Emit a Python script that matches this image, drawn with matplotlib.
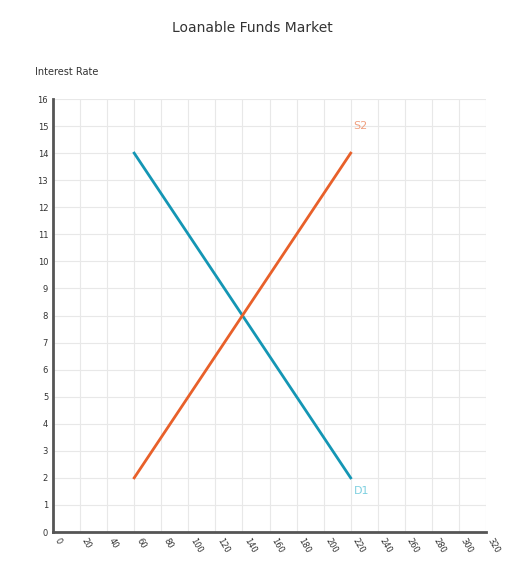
import matplotlib.pyplot as plt

demand_x = [60, 220]
demand_y = [14, 2]
supply_x = [60, 220]
supply_y = [2, 14]

fig = plt.figure(figsize=(5.05, 5.69), dpi=100)
ax = fig.add_axes([53/505, 1 - 532/569, 433/505, 433/569])

ax.plot(demand_x, demand_y, color='#1496b4', lw=2)
ax.plot(supply_x, supply_y, color='#e8602a', lw=2)
ax.text(222, 15, 'S2', color='#f0a080', fontsize=8, va='center')
ax.text(222, 1.5, 'D1', color='#7fd0e0', fontsize=8, va='center')

ax.set_xlim(0, 320)
ax.set_ylim(0, 16)
ax.set_xticks(range(0, 321, 20))
ax.set_yticks(range(0, 17))
ax.tick_params(labelsize=6, length=0, colors='#333333')
for lab in ax.get_xticklabels():
    lab.set_rotation(-60)
    lab.set_ha('left')
ax.grid(color='#e8e8e8', lw=0.8)
for s in ['top', 'right']:
    ax.spines[s].set_visible(False)
for s in ['left', 'bottom']:
    ax.spines[s].set_linewidth(2)
    ax.spines[s].set_color('#555555')

fig.text(0.5, 1 - 28/569, 'Loanable Funds Market', ha='center', va='center', fontsize=10, color='#333333')
fig.text(35/505, 1 - 72/569, 'Interest Rate', ha='left', va='center', fontsize=7, color='#333333')

fig.savefig('out.png', dpi=100)
